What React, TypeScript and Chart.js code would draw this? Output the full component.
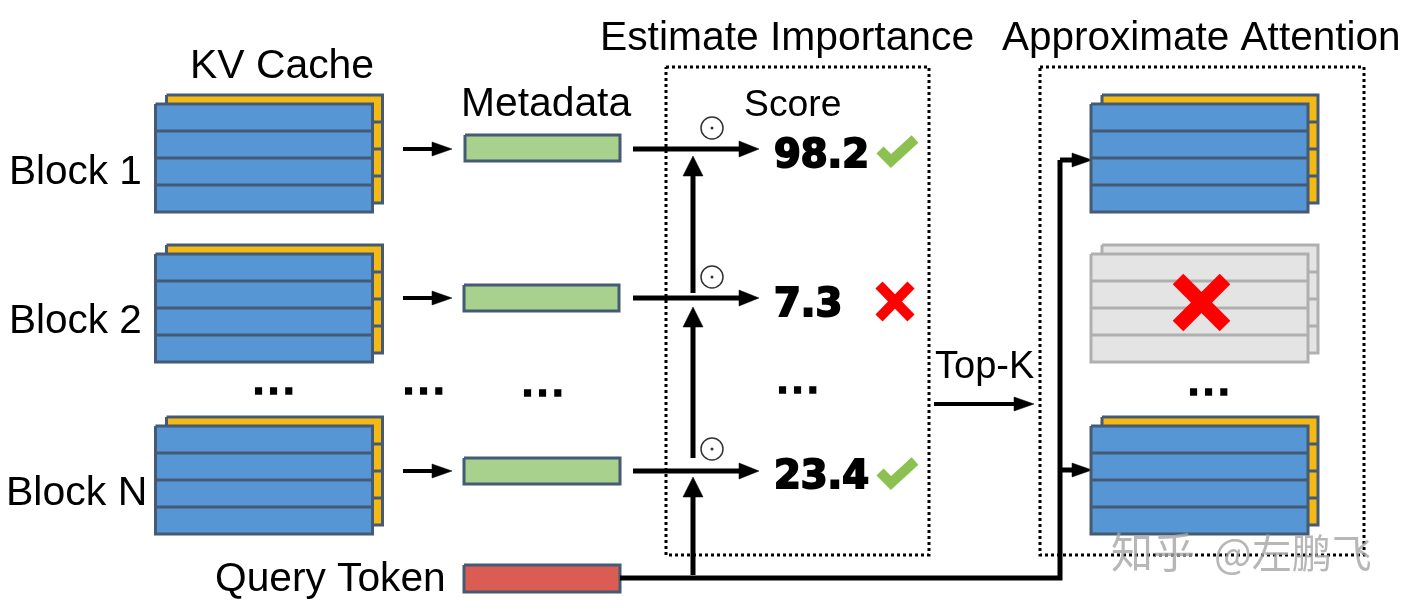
import { useEffect, useRef } from "react";
import { Chart, registerables } from "chart.js";

Chart.register(...registerables);

type Pt = [number, number];

const WIDTH = 1411;
const HEIGHT = 610;

// diagram values
const blockLabels = ["Block 1", "Block 2", "Block N"];
const scores = ["98.2", "7.3", "23.4"];
const keptBlocks = [true, false, true];

// layout, all in scale units (the scales map 1:1 on the canvas)
const cacheTops = [104, 254, 426];
const blockLabelBase = [184, 333, 505];
const metaBoxes = [
  [465, 620, 135, 161],
  [464, 619, 285, 311],
  [464, 620, 458, 484],
];
const rowYs = [149, 298, 471];
const dotGroups: [number, number][] = [[256, 391], [406, 391], [525, 393], [780, 390], [1191, 392]];
const scoreBase = [167, 316, 488];
const oDotYs = [128, 277, 449];
const verticalArrows = [[293, 156], [458, 307], [575, 477]];

const BLUE = "#5796d5";
const YELLOW = "#f5b914";
const SLATE = "#445a75";
const GREY_FILL = "#e4e4e4";
const GREY_LINE = "#afafaf";
const SANS = '"Liberation Sans", Arial, sans-serif';

const datasets: any[] = [];

function poly(points: Pt[], color: string, width: number, fill?: string, dash?: number[]) {
  datasets.push({
    data: points.map(([x, y]) => ({ x, y })),
    borderColor: color,
    borderWidth: width,
    borderDash: dash ?? [],
    backgroundColor: fill ?? "transparent",
    fill: fill ? "shape" : false,
    borderCapStyle: "butt",
    borderJoinStyle: "miter",
    pointRadius: 0,
    tension: 0,
    clip: false,
  });
}

function rect(x0: number, x1: number, y0: number, y1: number, color: string, width: number, fill?: string, dash?: number[]) {
  poly([[x0, y0], [x1, y0], [x1, y1], [x0, y1], [x0, y0]], color, width, fill, dash);
}

function rowStack(x0: number, x1: number, top: number, fill: string, line: string) {
  rect(x0, x1, top, top + 108, line, 3, fill);
  [27, 54, 81].forEach((d) => poly([[x0, top + d], [x1, top + d]], line, 3));
}

function cacheStack(x: number, top: number, grey = false) {
  rowStack(x + 11, x + 227, top - 9, grey ? GREY_FILL : YELLOW, grey ? GREY_LINE : SLATE);
  rowStack(x, x + 217, top, grey ? GREY_FILL : BLUE, grey ? GREY_LINE : SLATE);
}

function arrowH(x0: number, x1: number, y: number, width: number, head = 20, half = 7) {
  poly([[x0, y], [x1 - head + 1, y]], "#000", width);
  poly([[x1 - head, y - half], [x1, y], [x1 - head, y + half], [x1 - head, y - half]], "#000", 0.5, "#000");
}

function arrowUp(x: number, y0: number, y1: number) {
  poly([[x, y0], [x, y1 + 19]], "#000", 5);
  poly([[x - 10, y1 + 20], [x, y1], [x + 10, y1 + 20], [x - 10, y1 + 20]], "#000", 0.5, "#000");
}

// stacks on the left, metadata and arrows per block
cacheTops.forEach((top, i) => {
  cacheStack(155.5, top);
  const [x0, x1, y0, y1] = metaBoxes[i];
  rect(x0, x1, y0, y1, SLATE, 3, "#a9d18e");
  arrowH(403, 452, rowYs[i], 4);
});

// dotted boxes
rect(666, 929, 67, 555, "#000", 3, undefined, [3, 3]);
rect(1040, 1364, 67, 555, "#000", 3, undefined, [3, 3]);

// dot product rows
rowYs.forEach((y) => arrowH(633, 759, y, 5, 20, 8));
verticalArrows.forEach(([y0, y1]) => arrowUp(693, y0, y1));

// query token path
rect(464, 620, 565, 592, SLATE, 3, "#db5c52");
poly([[620, 578], [1060, 578], [1060, 160]], "#000", 5);
arrowH(1060, 1092, 160, 5, 20, 7);
arrowH(1060, 1092, 470, 5, 20, 7);
arrowH(934, 1034, 404, 4, 20, 7);

// stacks on the right
cacheTops.forEach((top, i) => cacheStack(1091, top, !keptBlocks[i]));

// verdict marks
keptBlocks.forEach((kept, i) => {
  const y = [0, 149, 322][i];
  if (kept) poly([[880, 150 + y], [891, 161 + y], [915, 139 + y]], "#8cc152", 10);
});
poly([[879, 285], [911, 318]], "#f00", 10);
poly([[911, 285], [879, 318]], "#f00", 10);
poly([[1178, 279], [1225, 326]], "#f00", 15);
poly([[1225, 279], [1178, 326]], "#f00", 15);

// odot symbols
oDotYs.forEach((y) => {
  [[11, 1.5, "transparent"], [1.5, 0, "#333"]].forEach(([radius, bw, bg]) => {
    datasets.push({
      data: [{ x: 712, y }],
      pointRadius: radius,
      pointBorderWidth: bw,
      pointBorderColor: "#333",
      pointBackgroundColor: bg,
      showLine: false,
      clip: false,
    });
  });
});

const textPlugin = {
  id: "diagramText",
  afterDatasetsDraw(chart: any) {
    const { ctx, scales } = chart;
    const put = (s: string, x: number, y: number, font: string, color = "#000", stroke = 0) => {
      ctx.font = font;
      ctx.fillStyle = color;
      ctx.textAlign = "left";
      ctx.textBaseline = "alphabetic";
      const px = scales.x.getPixelForValue(x);
      const py = scales.y.getPixelForValue(y);
      ctx.fillText(s, px, py);
      if (stroke) {
        ctx.lineWidth = stroke;
        ctx.strokeStyle = color;
        ctx.strokeText(s, px, py);
      }
    };
    ctx.save();
    put("KV Cache", 190, 78, `40.9px ${SANS}`);
    put("Metadata", 461, 116, `40.8px ${SANS}`);
    put("Estimate Importance", 600, 50, `40.8px ${SANS}`);
    put("Approximate Attention", 1002, 50, `40.5px ${SANS}`);
    put("Score", 744, 116, `37.3px ${SANS}`);
    put("Top-K", 935, 378, `38px ${SANS}`);
    put("Query Token", 215, 591, `40.7px ${SANS}`);
    blockLabels.forEach((b, i) => put(b, i === 2 ? 6 : 9, blockLabelBase[i], `${i === 2 ? 41 : 40.5}px ${SANS}`));
    scores.forEach((s, i) => put(s, 774, scoreBase[i], `bold 38.5px "DejaVu Sans"`, "#000", 2));
    dotGroups.forEach(([x, y]) => {
      ctx.letterSpacing = "4px";
      put("...", x - 3, y + 3, `bold 40px ${SANS}`, "#000", 1.5);
      ctx.letterSpacing = "0px";
    });
    // site watermark
    put("知乎", 1111, 568, `42px "Noto Sans CJK SC"`, "rgba(165,165,165,0.8)");
    put("@左鹏飞", 1214, 568, `40px "Noto Sans CJK SC"`, "rgba(165,165,165,0.8)");
    ctx.restore();
  },
};

export default function App() {
  const canvasRef = useRef<HTMLCanvasElement>(null);

  useEffect(() => {
    if (!canvasRef.current) return;
    document.body.style.margin = "0";

    // Chart.js paints the first dataset last, so flip the paint-ordered list
    const chart = new Chart(canvasRef.current, {
      type: "line",
      data: { datasets: [...datasets].reverse() },
      options: {
        responsive: false,
        animation: false,
        layout: { padding: 0, autoPadding: false },
        plugins: { legend: { display: false }, tooltip: { enabled: false } },
        scales: {
          x: { type: "linear", min: 0, max: WIDTH, display: false },
          y: { type: "linear", min: 0, max: HEIGHT, reverse: true, display: false },
        },
      },
      plugins: [textPlugin],
    });

    return () => {
      chart.destroy();
    };
  }, []);

  return <canvas ref={canvasRef} width={WIDTH} height={HEIGHT} style={{ display: "block" }} />;
}
